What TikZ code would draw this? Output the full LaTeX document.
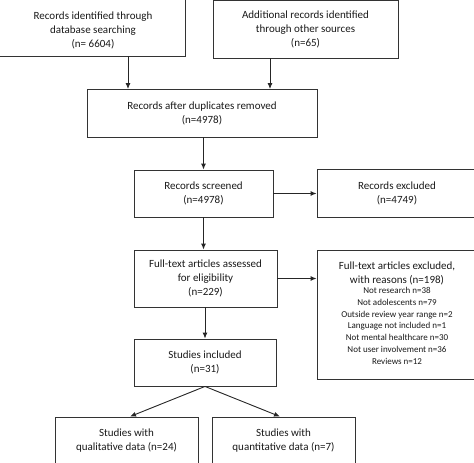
\documentclass[tikz,border=0pt]{standalone}
\usepackage{fontspec}
\setmainfont{Carlito}
\usetikzlibrary{arrows.meta,calc}
\begin{document}
\begin{tikzpicture}[x=1pt,y=1pt,
  box/.style={draw=black!80,line width=0.9pt,inner sep=0pt,align=center,
    font=\fontsize{11}{14}\selectfont,text=black!90},
  arr/.style={draw=black!85,line width=0.9pt,-{Latex[length=6pt,width=5pt]}}]
\useasboundingbox (0,0) rectangle (474,-463);
\clip (0,0) rectangle (474,-463);
% top row
\node[box,minimum width=187,minimum height=66] (b1) at (91.5,-23) {};
\node[align=center,inner sep=0pt,font=\fontsize{11}{14}\selectfont,text=black!90] (b1t) at (93,-30)
  {Records identified through\\database searching\\(n= 6604)};
\node[box,minimum width=185,minimum height=58] (b2) at (305.5,-29)
  {Additional records identified\\through other sources\\(n=65)};
% duplicates removed
\node[box,minimum width=230,minimum height=48] (b3) at (202,-113)
  {Records after duplicates removed\\(n=4978)};
% screened
\node[box,minimum width=139,minimum height=47] (b4) at (203.5,-193.5)
  {Records screened\\(n=4978)};
\node[box,minimum width=160,minimum height=48] (b5) at (397,-193)
  {Records excluded\\(n=4749)};
% full text
\node[box,minimum width=143,minimum height=57] (b6) at (205.5,-278.5)
  {Full-text articles assessed\\for eligibility\\(n=229)};
\node[box,minimum width=160,minimum height=129] (b7) at (397,-314.5)
  {Full-text articles excluded,\\with reasons (n=198)\\
   {\fontsize{9}{11.7}\selectfont\begin{tabular}{@{}c@{}}Not research n=38\\Not adolescents n=79\\Outside review year range n=2\\Language not included n=1\\Not mental healthcare n=30\\Not user involvement n=36\\Reviews n=12\end{tabular}}};
% included
\node[box,minimum width=142,minimum height=47] (b8) at (205,-362.5)
  {Studies included\\(n=31)};
\node[box,minimum width=143,minimum height=48] (b9) at (126.5,-441)
  {Studies with\\qualitative data (n=24)};
\node[box,minimum width=143,minimum height=48] (b10) at (283.5,-441)
  {Studies with\\quantitative data (n=7)};
% arrows
\coordinate (c1) at (128,-89);
\coordinate (c2) at (270,-89);
\draw[arr] (c1 |- b1.south) -- (c1);
\draw[arr] (c2 |- b2.south) -- (c2);
\draw[arr] (b3.south -| b4.north) -- (b4.north);
\draw[arr] (b4.east) -- (b4.east -| b5.west);
\draw[arr] (b4.south) -- (b4.south |- b6.north);
\draw[arr] (b6.east) -- (b6.east -| b7.west);
\draw[arr] (b6.south -| b8.north) -- (b8.north);
\draw[arr] (b8.south) -- ($(b9.north)+(3.5,0)$);
\draw[arr] (b8.south) -- ($(b10.north)+(-3.5,0)$);
\end{tikzpicture}
\end{document}
